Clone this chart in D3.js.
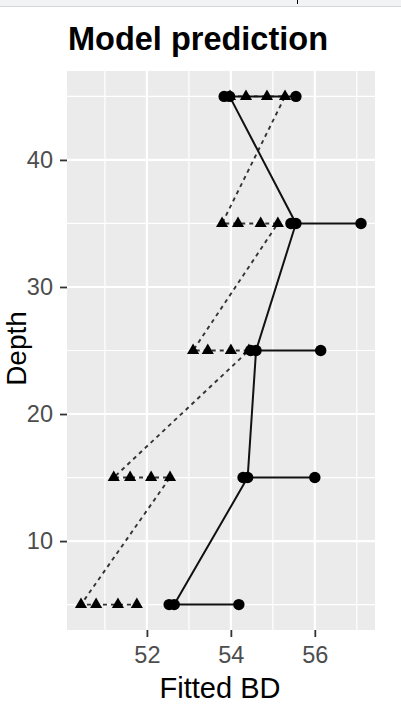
<!DOCTYPE html>
<head>
  <meta charset="utf-8">
  <script src='https://d3js.org/d3.v7.min.js'></script>
  <style>
    body {
      font-family: "Liberation Sans", Arial, sans-serif;
      margin: 0;
      background: #fff;
    }
  </style>
</head>

<body>
<div id='vis'></div>

<script>
// depth levels and fitted values
const depths = [5, 15, 25, 35, 45];
const circleLo = [52.53, 54.29, 54.47, 55.43, 53.84];
const circleMid = [52.65, 54.40, 54.60, 55.55, 53.97];
const circleHi = [54.19, 56.00, 56.14, 57.10, 55.55];
const tri1 = [50.43, 51.21, 53.10, 53.79, 53.98];
const tri2 = [50.79, 51.60, 53.45, 54.17, 54.36];
const tri3 = [51.31, 52.10, 54.00, 54.71, 54.86];
const tri4 = [51.76, 52.55, 54.43, 55.12, 55.29];
const xTicks = [52, 54, 56];
const yTicks = [10, 20, 30, 40];
const xMinor = [51, 53, 55, 57];
const yMinor = [5, 15, 25, 35, 45];

const width = 401;
const height = 711;
const panel = { left: 67, right: 375, top: 71, bottom: 630 };

const svg = d3.select('#vis')
  .append('svg')
  .attr('width', width)
  .attr('height', height);

// thin strip at the very top of the screenshot
svg.append('rect')
  .attr('x', 0).attr('y', 0).attr('width', width).attr('height', 6)
  .attr('fill', '#f2f3f5');
svg.append('line')
  .attr('x1', 0).attr('x2', width).attr('y1', 6.5).attr('y2', 6.5)
  .attr('stroke', '#d6d6d6').attr('stroke-width', 1);
svg.append('line')
  .attr('x1', 297.5).attr('x2', 297.5).attr('y1', 0).attr('y2', 4)
  .attr('stroke', '#000').attr('stroke-width', 1);

const allX = [].concat(circleLo, circleMid, circleHi, tri1, tri2, tri3, tri4);
const xMin = d3.min(allX), xMax = d3.max(allX);
const xPad = (xMax - xMin) * 0.05;
const yPad = (d3.max(depths) - d3.min(depths)) * 0.05;

const x = d3.scaleLinear()
  .domain([xMin - xPad, xMax + xPad])
  .range([panel.left, panel.right]);

const y = d3.scaleLinear()
  .domain([d3.min(depths) - yPad, d3.max(depths) + yPad])
  .range([panel.bottom, panel.top]);

// panel background + grid
svg.append('rect')
  .attr('x', panel.left).attr('y', panel.top)
  .attr('width', panel.right - panel.left)
  .attr('height', panel.bottom - panel.top)
  .attr('fill', '#ebebeb');

const grid = svg.append('g');
grid.selectAll('.xminor').data(xMinor).enter().append('line')
  .attr('x1', d => x(d)).attr('x2', d => x(d))
  .attr('y1', panel.top).attr('y2', panel.bottom)
  .attr('stroke', '#fff').attr('stroke-width', 1.2);
grid.selectAll('.yminor').data(yMinor).enter().append('line')
  .attr('y1', d => y(d)).attr('y2', d => y(d))
  .attr('x1', panel.left).attr('x2', panel.right)
  .attr('stroke', '#fff').attr('stroke-width', 1.2);
grid.selectAll('.xmajor').data(xTicks).enter().append('line')
  .attr('x1', d => x(d)).attr('x2', d => x(d))
  .attr('y1', panel.top).attr('y2', panel.bottom)
  .attr('stroke', '#fff').attr('stroke-width', 2.2);
grid.selectAll('.ymajor').data(yTicks).enter().append('line')
  .attr('y1', d => y(d)).attr('y2', d => y(d))
  .attr('x1', panel.left).attr('x2', panel.right)
  .attr('stroke', '#fff').attr('stroke-width', 2.2);

// axes
const xAxis = svg.append('g')
  .attr('transform', `translate(0,${panel.bottom})`)
  .call(d3.axisBottom(x).tickValues(xTicks).tickSize(7).tickPadding(9));
const yAxis = svg.append('g')
  .attr('transform', `translate(${panel.left},0)`)
  .call(d3.axisLeft(y).tickValues(yTicks).tickSize(7).tickPadding(7));

[xAxis, yAxis].forEach(a => {
  a.select('.domain').remove();
  a.selectAll('.tick line').attr('stroke', '#333').attr('stroke-width', 1.8);
  a.selectAll('.tick text')
    .attr('fill', '#4d4d4d')
    .style('font-size', '23.5px')
    .style('font-family', '"Liberation Sans", Arial, sans-serif');
});

// build rows, top depth first
const rows = depths.map((d, i) => ({
  depth: d,
  lo: circleLo[i], mid: circleMid[i], hi: circleHi[i],
  tris: [tri1[i], tri2[i], tri3[i], tri4[i]]
})).sort((a, b) => b.depth - a.depth);

// dashed path through triangles
const triPath = [];
rows.forEach(r => r.tris.forEach(v => triPath.push([v, r.depth])));

const line = d3.line().x(d => x(d[0])).y(d => y(d[1]));

svg.append('path')
  .datum(triPath)
  .attr('d', line)
  .attr('fill', 'none')
  .attr('stroke', '#333')
  .attr('stroke-width', 1.9)
  .attr('stroke-dasharray', '4,4');

// solid path linking circle clusters, plus horizontal spans
svg.append('path')
  .datum(rows.map(r => [r.mid, r.depth]))
  .attr('d', line)
  .attr('fill', 'none')
  .attr('stroke', '#111')
  .attr('stroke-width', 2);

svg.selectAll('.span').data(rows).enter().append('line')
  .attr('x1', d => x(d.lo)).attr('x2', d => x(d.hi))
  .attr('y1', d => y(d.depth)).attr('y2', d => y(d.depth))
  .attr('stroke', '#111')
  .attr('stroke-width', 2);

// points
svg.selectAll('.tri').data(triPath).enter().append('path')
  .attr('d', d3.symbol().type(d3.symbolTriangle).size(64))
  .attr('transform', d => `translate(${x(d[0])},${y(d[1])})`)
  .attr('fill', '#000');

const circPts = [];
rows.forEach(r => [r.lo, r.mid, r.hi].forEach(v => circPts.push([v, r.depth])));
svg.selectAll('.circ').data(circPts).enter().append('circle')
  .attr('cx', d => x(d[0]))
  .attr('cy', d => y(d[1]))
  .attr('r', 5.7)
  .attr('fill', '#000');

// titles
svg.append('text')
  .attr('x', 68)
  .attr('y', 50)
  .style('font-size', '32.5px')
  .style('font-weight', 'bold')
  .attr('fill', '#000')
  .text('Model prediction');

svg.append('text')
  .attr('x', (panel.left + panel.right) / 2 - 1)
  .attr('y', 698)
  .attr('text-anchor', 'middle')
  .style('font-size', '29px')
  .attr('fill', '#000')
  .text('Fitted BD');

svg.append('text')
  .attr('transform', `translate(26,${(panel.top + panel.bottom) / 2 - 2}) rotate(-90)`)
  .attr('text-anchor', 'middle')
  .style('font-size', '28px')
  .attr('fill', '#000')
  .text('Depth');
</script>
</body>
